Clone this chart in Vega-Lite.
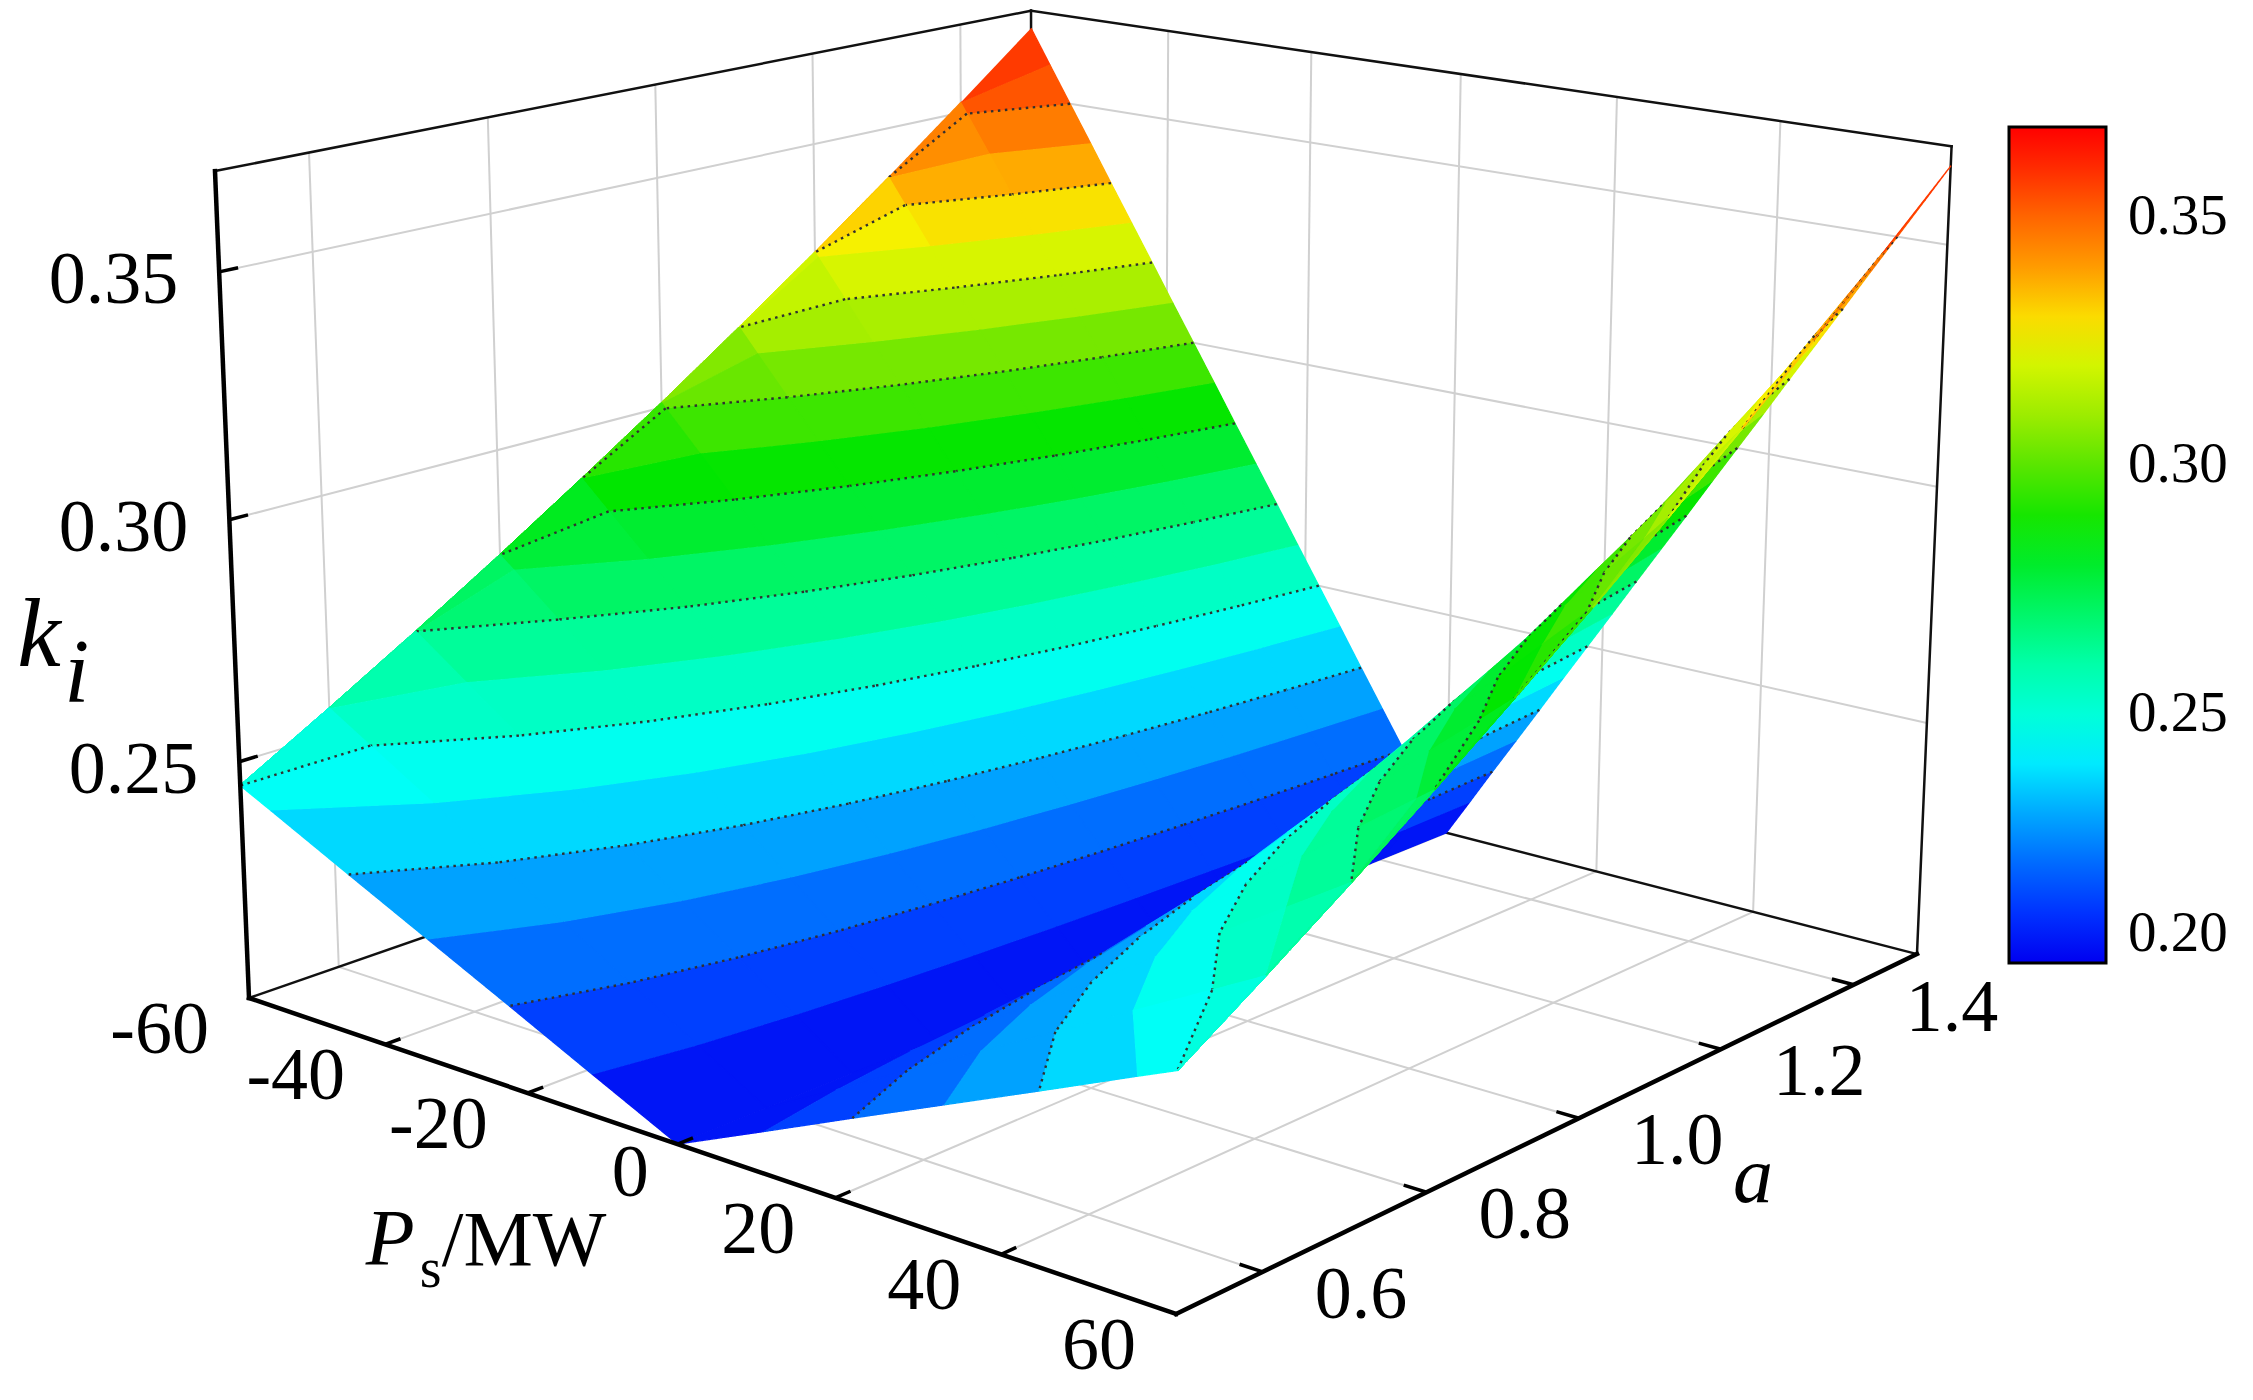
{
  "$schema": "https://vega.github.io/schema/vega-lite/v6.json",
  "width": 2253,
  "height": 1400,
  "autosize": "none",
  "padding": 0,
  "background": "white",
  "config": {"view": {"stroke": null}, "font": "Liberation Serif"},
  "datasets": {
    "surf": [
      {"a":1.5,"P":-60,"k":0.366},{"a":1.5,"P":-57.23,"k":0.3583},{"a":1.5,"P":-54.22,"k":0.35},{"a":1.5,"P":-51.2,"k":0.3417},{"a":1.5,"P":-48.19,"k":0.3333},{"a":1.5,"P":-45.18,"k":0.325},{"a":1.5,"P":-42.17,"k":0.3167},{"a":1.5,"P":-39.16,"k":0.3083},{"a":1.5,"P":-36.14,"k":0.3},{"a":1.5,"P":-33.13,"k":0.2917},{"a":1.5,"P":-30.12,"k":0.2833},{"a":1.5,"P":-27.11,"k":0.275},{"a":1.5,"P":-24.1,"k":0.2667},{"a":1.5,"P":-21.08,"k":0.2583},{"a":1.5,"P":-18.07,"k":0.25},{"a":1.5,"P":-15.06,"k":0.2417},{"a":1.5,"P":-12.05,"k":0.2333},{"a":1.5,"P":-9.04,"k":0.225},{"a":1.5,"P":-6.02,"k":0.2167},{"a":1.5,"P":-3.01,"k":0.2083},
      {"a":1.5,"P":0,"k":0.2},
      {"a":1.5,"P":3.01,"k":0.2083},{"a":1.5,"P":6.02,"k":0.2167},{"a":1.5,"P":9.04,"k":0.225},{"a":1.5,"P":12.05,"k":0.2333},{"a":1.5,"P":15.06,"k":0.2417},{"a":1.5,"P":18.07,"k":0.25},{"a":1.5,"P":21.08,"k":0.2583},{"a":1.5,"P":24.1,"k":0.2667},{"a":1.5,"P":27.11,"k":0.275},{"a":1.5,"P":30.12,"k":0.2833},{"a":1.5,"P":33.13,"k":0.2917},{"a":1.5,"P":36.14,"k":0.3},{"a":1.5,"P":39.16,"k":0.3083},{"a":1.5,"P":42.17,"k":0.3167},{"a":1.5,"P":45.18,"k":0.325},{"a":1.5,"P":48.19,"k":0.3333},{"a":1.5,"P":51.2,"k":0.3417},{"a":1.5,"P":54.22,"k":0.35},{"a":1.5,"P":57.23,"k":0.3583},{"a":1.5,"P":60,"k":0.366},

      {"a":1.4,"P":-60,"k":0.3523},{"a":1.4,"P":-60,"k":0.3523},{"a":1.4,"P":-59.1,"k":0.35},{"a":1.4,"P":-55.82,"k":0.3417},{"a":1.4,"P":-52.53,"k":0.3333},{"a":1.4,"P":-49.25,"k":0.325},{"a":1.4,"P":-45.97,"k":0.3167},{"a":1.4,"P":-42.68,"k":0.3083},{"a":1.4,"P":-39.4,"k":0.3},{"a":1.4,"P":-36.12,"k":0.2917},{"a":1.4,"P":-32.83,"k":0.2833},{"a":1.4,"P":-29.55,"k":0.275},{"a":1.4,"P":-26.27,"k":0.2667},{"a":1.4,"P":-22.99,"k":0.2583},{"a":1.4,"P":-19.7,"k":0.25},{"a":1.4,"P":-16.42,"k":0.2417},{"a":1.4,"P":-13.13,"k":0.2333},{"a":1.4,"P":-9.85,"k":0.225},{"a":1.4,"P":-6.57,"k":0.2167},{"a":1.4,"P":-3.28,"k":0.2083},
      {"a":1.4,"P":0,"k":0.2},
      {"a":1.4,"P":3.28,"k":0.2083},{"a":1.4,"P":6.57,"k":0.2167},{"a":1.4,"P":9.85,"k":0.225},{"a":1.4,"P":13.13,"k":0.2333},{"a":1.4,"P":16.42,"k":0.2417},{"a":1.4,"P":19.7,"k":0.25},{"a":1.4,"P":22.99,"k":0.2583},{"a":1.4,"P":26.27,"k":0.2667},{"a":1.4,"P":29.55,"k":0.275},{"a":1.4,"P":32.83,"k":0.2833},{"a":1.4,"P":36.12,"k":0.2917},{"a":1.4,"P":39.4,"k":0.3},{"a":1.4,"P":42.68,"k":0.3083},{"a":1.4,"P":45.97,"k":0.3167},{"a":1.4,"P":49.25,"k":0.325},{"a":1.4,"P":52.53,"k":0.3333},{"a":1.4,"P":55.82,"k":0.3417},{"a":1.4,"P":59.1,"k":0.35},{"a":1.4,"P":60,"k":0.3523},{"a":1.4,"P":60,"k":0.3523},

      {"a":1.3,"P":-60,"k":0.3389},{"a":1.3,"P":-60,"k":0.3389},{"a":1.3,"P":-60,"k":0.3389},{"a":1.3,"P":-60,"k":0.3389},{"a":1.3,"P":-57.59,"k":0.3333},{"a":1.3,"P":-53.99,"k":0.325},{"a":1.3,"P":-50.39,"k":0.3167},{"a":1.3,"P":-46.79,"k":0.3083},{"a":1.3,"P":-43.19,"k":0.3},{"a":1.3,"P":-39.59,"k":0.2917},{"a":1.3,"P":-35.99,"k":0.2833},{"a":1.3,"P":-32.39,"k":0.275},{"a":1.3,"P":-28.79,"k":0.2667},{"a":1.3,"P":-25.19,"k":0.2583},{"a":1.3,"P":-21.59,"k":0.25},{"a":1.3,"P":-17.99,"k":0.2417},{"a":1.3,"P":-14.4,"k":0.2333},{"a":1.3,"P":-10.8,"k":0.225},{"a":1.3,"P":-7.2,"k":0.2167},{"a":1.3,"P":-3.6,"k":0.2083},
      {"a":1.3,"P":0,"k":0.2},
      {"a":1.3,"P":3.6,"k":0.2083},{"a":1.3,"P":7.2,"k":0.2167},{"a":1.3,"P":10.8,"k":0.225},{"a":1.3,"P":14.4,"k":0.2333},{"a":1.3,"P":17.99,"k":0.2417},{"a":1.3,"P":21.59,"k":0.25},{"a":1.3,"P":25.19,"k":0.2583},{"a":1.3,"P":28.79,"k":0.2667},{"a":1.3,"P":32.39,"k":0.275},{"a":1.3,"P":35.99,"k":0.2833},{"a":1.3,"P":39.59,"k":0.2917},{"a":1.3,"P":43.19,"k":0.3},{"a":1.3,"P":46.79,"k":0.3083},{"a":1.3,"P":50.39,"k":0.3167},{"a":1.3,"P":53.99,"k":0.325},{"a":1.3,"P":57.59,"k":0.3333},{"a":1.3,"P":60,"k":0.3389},{"a":1.3,"P":60,"k":0.3389},{"a":1.3,"P":60,"k":0.3389},{"a":1.3,"P":60,"k":0.3389},

      {"a":1.2,"P":-60,"k":0.3259},{"a":1.2,"P":-60,"k":0.3259},{"a":1.2,"P":-60,"k":0.3259},{"a":1.2,"P":-60,"k":0.3259},{"a":1.2,"P":-60,"k":0.3259},{"a":1.2,"P":-59.57,"k":0.325},{"a":1.2,"P":-55.59,"k":0.3167},{"a":1.2,"P":-51.62,"k":0.3083},{"a":1.2,"P":-47.65,"k":0.3},{"a":1.2,"P":-43.68,"k":0.2917},{"a":1.2,"P":-39.71,"k":0.2833},{"a":1.2,"P":-35.74,"k":0.275},{"a":1.2,"P":-31.77,"k":0.2667},{"a":1.2,"P":-27.8,"k":0.2583},{"a":1.2,"P":-23.83,"k":0.25},{"a":1.2,"P":-19.86,"k":0.2417},{"a":1.2,"P":-15.88,"k":0.2333},{"a":1.2,"P":-11.91,"k":0.225},{"a":1.2,"P":-7.94,"k":0.2167},{"a":1.2,"P":-3.97,"k":0.2083},
      {"a":1.2,"P":0,"k":0.2},
      {"a":1.2,"P":3.97,"k":0.2083},{"a":1.2,"P":7.94,"k":0.2167},{"a":1.2,"P":11.91,"k":0.225},{"a":1.2,"P":15.88,"k":0.2333},{"a":1.2,"P":19.86,"k":0.2417},{"a":1.2,"P":23.83,"k":0.25},{"a":1.2,"P":27.8,"k":0.2583},{"a":1.2,"P":31.77,"k":0.2667},{"a":1.2,"P":35.74,"k":0.275},{"a":1.2,"P":39.71,"k":0.2833},{"a":1.2,"P":43.68,"k":0.2917},{"a":1.2,"P":47.65,"k":0.3},{"a":1.2,"P":51.62,"k":0.3083},{"a":1.2,"P":55.59,"k":0.3167},{"a":1.2,"P":59.57,"k":0.325},{"a":1.2,"P":60,"k":0.3259},{"a":1.2,"P":60,"k":0.3259},{"a":1.2,"P":60,"k":0.3259},{"a":1.2,"P":60,"k":0.3259},{"a":1.2,"P":60,"k":0.3259},

      {"a":1.1,"P":-60,"k":0.3133},{"a":1.1,"P":-60,"k":0.3133},{"a":1.1,"P":-60,"k":0.3133},{"a":1.1,"P":-60,"k":0.3133},{"a":1.1,"P":-60,"k":0.3133},{"a":1.1,"P":-60,"k":0.3133},{"a":1.1,"P":-60,"k":0.3133},{"a":1.1,"P":-57.38,"k":0.3083},{"a":1.1,"P":-52.97,"k":0.3},{"a":1.1,"P":-48.55,"k":0.2917},{"a":1.1,"P":-44.14,"k":0.2833},{"a":1.1,"P":-39.73,"k":0.275},{"a":1.1,"P":-35.31,"k":0.2667},{"a":1.1,"P":-30.9,"k":0.2583},{"a":1.1,"P":-26.48,"k":0.25},{"a":1.1,"P":-22.07,"k":0.2417},{"a":1.1,"P":-17.66,"k":0.2333},{"a":1.1,"P":-13.24,"k":0.225},{"a":1.1,"P":-8.83,"k":0.2167},{"a":1.1,"P":-4.41,"k":0.2083},
      {"a":1.1,"P":0,"k":0.2},
      {"a":1.1,"P":4.41,"k":0.2083},{"a":1.1,"P":8.83,"k":0.2167},{"a":1.1,"P":13.24,"k":0.225},{"a":1.1,"P":17.66,"k":0.2333},{"a":1.1,"P":22.07,"k":0.2417},{"a":1.1,"P":26.48,"k":0.25},{"a":1.1,"P":30.9,"k":0.2583},{"a":1.1,"P":35.31,"k":0.2667},{"a":1.1,"P":39.73,"k":0.275},{"a":1.1,"P":44.14,"k":0.2833},{"a":1.1,"P":48.55,"k":0.2917},{"a":1.1,"P":52.97,"k":0.3},{"a":1.1,"P":57.38,"k":0.3083},{"a":1.1,"P":60,"k":0.3133},{"a":1.1,"P":60,"k":0.3133},{"a":1.1,"P":60,"k":0.3133},{"a":1.1,"P":60,"k":0.3133},{"a":1.1,"P":60,"k":0.3133},{"a":1.1,"P":60,"k":0.3133},{"a":1.1,"P":60,"k":0.3133},

      {"a":1.0,"P":-60,"k":0.301},{"a":1.0,"P":-60,"k":0.301},{"a":1.0,"P":-60,"k":0.301},{"a":1.0,"P":-60,"k":0.301},{"a":1.0,"P":-60,"k":0.301},{"a":1.0,"P":-60,"k":0.301},{"a":1.0,"P":-60,"k":0.301},{"a":1.0,"P":-60,"k":0.301},{"a":1.0,"P":-59.41,"k":0.3},{"a":1.0,"P":-54.46,"k":0.2917},{"a":1.0,"P":-49.5,"k":0.2833},{"a":1.0,"P":-44.55,"k":0.275},{"a":1.0,"P":-39.6,"k":0.2667},{"a":1.0,"P":-34.65,"k":0.2583},{"a":1.0,"P":-29.7,"k":0.25},{"a":1.0,"P":-24.75,"k":0.2417},{"a":1.0,"P":-19.8,"k":0.2333},{"a":1.0,"P":-14.85,"k":0.225},{"a":1.0,"P":-9.9,"k":0.2167},{"a":1.0,"P":-4.95,"k":0.2083},
      {"a":1.0,"P":0,"k":0.2},
      {"a":1.0,"P":4.95,"k":0.2083},{"a":1.0,"P":9.9,"k":0.2167},{"a":1.0,"P":14.85,"k":0.225},{"a":1.0,"P":19.8,"k":0.2333},{"a":1.0,"P":24.75,"k":0.2417},{"a":1.0,"P":29.7,"k":0.25},{"a":1.0,"P":34.65,"k":0.2583},{"a":1.0,"P":39.6,"k":0.2667},{"a":1.0,"P":44.55,"k":0.275},{"a":1.0,"P":49.5,"k":0.2833},{"a":1.0,"P":54.46,"k":0.2917},{"a":1.0,"P":59.41,"k":0.3},{"a":1.0,"P":60,"k":0.301},{"a":1.0,"P":60,"k":0.301},{"a":1.0,"P":60,"k":0.301},{"a":1.0,"P":60,"k":0.301},{"a":1.0,"P":60,"k":0.301},{"a":1.0,"P":60,"k":0.301},{"a":1.0,"P":60,"k":0.301},{"a":1.0,"P":60,"k":0.301},

      {"a":0.9,"P":-60,"k":0.2891},{"a":0.9,"P":-60,"k":0.2891},{"a":0.9,"P":-60,"k":0.2891},{"a":0.9,"P":-60,"k":0.2891},{"a":0.9,"P":-60,"k":0.2891},{"a":0.9,"P":-60,"k":0.2891},{"a":0.9,"P":-60,"k":0.2891},{"a":0.9,"P":-60,"k":0.2891},{"a":0.9,"P":-60,"k":0.2891},{"a":0.9,"P":-60,"k":0.2891},{"a":0.9,"P":-56.13,"k":0.2833},{"a":0.9,"P":-50.52,"k":0.275},{"a":0.9,"P":-44.9,"k":0.2667},{"a":0.9,"P":-39.29,"k":0.2583},{"a":0.9,"P":-33.68,"k":0.25},{"a":0.9,"P":-28.06,"k":0.2417},{"a":0.9,"P":-22.45,"k":0.2333},{"a":0.9,"P":-16.84,"k":0.225},{"a":0.9,"P":-11.23,"k":0.2167},{"a":0.9,"P":-5.61,"k":0.2083},
      {"a":0.9,"P":0,"k":0.2},
      {"a":0.9,"P":5.61,"k":0.2083},{"a":0.9,"P":11.23,"k":0.2167},{"a":0.9,"P":16.84,"k":0.225},{"a":0.9,"P":22.45,"k":0.2333},{"a":0.9,"P":28.06,"k":0.2417},{"a":0.9,"P":33.68,"k":0.25},{"a":0.9,"P":39.29,"k":0.2583},{"a":0.9,"P":44.9,"k":0.2667},{"a":0.9,"P":50.52,"k":0.275},{"a":0.9,"P":56.13,"k":0.2833},{"a":0.9,"P":60,"k":0.2891},{"a":0.9,"P":60,"k":0.2891},{"a":0.9,"P":60,"k":0.2891},{"a":0.9,"P":60,"k":0.2891},{"a":0.9,"P":60,"k":0.2891},{"a":0.9,"P":60,"k":0.2891},{"a":0.9,"P":60,"k":0.2891},{"a":0.9,"P":60,"k":0.2891},{"a":0.9,"P":60,"k":0.2891},{"a":0.9,"P":60,"k":0.2891},

      {"a":0.8,"P":-60,"k":0.2775},{"a":0.8,"P":-60,"k":0.2775},{"a":0.8,"P":-60,"k":0.2775},{"a":0.8,"P":-60,"k":0.2775},{"a":0.8,"P":-60,"k":0.2775},{"a":0.8,"P":-60,"k":0.2775},{"a":0.8,"P":-60,"k":0.2775},{"a":0.8,"P":-60,"k":0.2775},{"a":0.8,"P":-60,"k":0.2775},{"a":0.8,"P":-60,"k":0.2775},{"a":0.8,"P":-60,"k":0.2775},{"a":0.8,"P":-58.05,"k":0.275},{"a":0.8,"P":-51.6,"k":0.2667},{"a":0.8,"P":-45.15,"k":0.2583},{"a":0.8,"P":-38.7,"k":0.25},{"a":0.8,"P":-32.25,"k":0.2417},{"a":0.8,"P":-25.8,"k":0.2333},{"a":0.8,"P":-19.35,"k":0.225},{"a":0.8,"P":-12.9,"k":0.2167},{"a":0.8,"P":-6.45,"k":0.2083},
      {"a":0.8,"P":0,"k":0.2},
      {"a":0.8,"P":6.45,"k":0.2083},{"a":0.8,"P":12.9,"k":0.2167},{"a":0.8,"P":19.35,"k":0.225},{"a":0.8,"P":25.8,"k":0.2333},{"a":0.8,"P":32.25,"k":0.2417},{"a":0.8,"P":38.7,"k":0.25},{"a":0.8,"P":45.15,"k":0.2583},{"a":0.8,"P":51.6,"k":0.2667},{"a":0.8,"P":58.05,"k":0.275},{"a":0.8,"P":60,"k":0.2775},{"a":0.8,"P":60,"k":0.2775},{"a":0.8,"P":60,"k":0.2775},{"a":0.8,"P":60,"k":0.2775},{"a":0.8,"P":60,"k":0.2775},{"a":0.8,"P":60,"k":0.2775},{"a":0.8,"P":60,"k":0.2775},{"a":0.8,"P":60,"k":0.2775},{"a":0.8,"P":60,"k":0.2775},{"a":0.8,"P":60,"k":0.2775},{"a":0.8,"P":60,"k":0.2775},

      {"a":0.7,"P":-60,"k":0.2663},{"a":0.7,"P":-60,"k":0.2663},{"a":0.7,"P":-60,"k":0.2663},{"a":0.7,"P":-60,"k":0.2663},{"a":0.7,"P":-60,"k":0.2663},{"a":0.7,"P":-60,"k":0.2663},{"a":0.7,"P":-60,"k":0.2663},{"a":0.7,"P":-60,"k":0.2663},{"a":0.7,"P":-60,"k":0.2663},{"a":0.7,"P":-60,"k":0.2663},{"a":0.7,"P":-60,"k":0.2663},{"a":0.7,"P":-60,"k":0.2663},{"a":0.7,"P":-60,"k":0.2663},{"a":0.7,"P":-52.77,"k":0.2583},{"a":0.7,"P":-45.23,"k":0.25},{"a":0.7,"P":-37.7,"k":0.2417},{"a":0.7,"P":-30.16,"k":0.2333},{"a":0.7,"P":-22.62,"k":0.225},{"a":0.7,"P":-15.08,"k":0.2167},{"a":0.7,"P":-7.54,"k":0.2083},
      {"a":0.7,"P":0,"k":0.2},
      {"a":0.7,"P":7.54,"k":0.2083},{"a":0.7,"P":15.08,"k":0.2167},{"a":0.7,"P":22.62,"k":0.225},{"a":0.7,"P":30.16,"k":0.2333},{"a":0.7,"P":37.7,"k":0.2417},{"a":0.7,"P":45.23,"k":0.25},{"a":0.7,"P":52.77,"k":0.2583},{"a":0.7,"P":60,"k":0.2663},{"a":0.7,"P":60,"k":0.2663},{"a":0.7,"P":60,"k":0.2663},{"a":0.7,"P":60,"k":0.2663},{"a":0.7,"P":60,"k":0.2663},{"a":0.7,"P":60,"k":0.2663},{"a":0.7,"P":60,"k":0.2663},{"a":0.7,"P":60,"k":0.2663},{"a":0.7,"P":60,"k":0.2663},{"a":0.7,"P":60,"k":0.2663},{"a":0.7,"P":60,"k":0.2663},{"a":0.7,"P":60,"k":0.2663},{"a":0.7,"P":60,"k":0.2663},

      {"a":0.6,"P":-60,"k":0.2555},{"a":0.6,"P":-60,"k":0.2555},{"a":0.6,"P":-60,"k":0.2555},{"a":0.6,"P":-60,"k":0.2555},{"a":0.6,"P":-60,"k":0.2555},{"a":0.6,"P":-60,"k":0.2555},{"a":0.6,"P":-60,"k":0.2555},{"a":0.6,"P":-60,"k":0.2555},{"a":0.6,"P":-60,"k":0.2555},{"a":0.6,"P":-60,"k":0.2555},{"a":0.6,"P":-60,"k":0.2555},{"a":0.6,"P":-60,"k":0.2555},{"a":0.6,"P":-60,"k":0.2555},{"a":0.6,"P":-60,"k":0.2555},{"a":0.6,"P":-54.07,"k":0.25},{"a":0.6,"P":-45.06,"k":0.2417},{"a":0.6,"P":-36.05,"k":0.2333},{"a":0.6,"P":-27.04,"k":0.225},{"a":0.6,"P":-18.02,"k":0.2167},{"a":0.6,"P":-9.01,"k":0.2083},
      {"a":0.6,"P":0,"k":0.2},
      {"a":0.6,"P":9.01,"k":0.2083},{"a":0.6,"P":18.02,"k":0.2167},{"a":0.6,"P":27.04,"k":0.225},{"a":0.6,"P":36.05,"k":0.2333},{"a":0.6,"P":45.06,"k":0.2417},{"a":0.6,"P":54.07,"k":0.25},{"a":0.6,"P":60,"k":0.2555},{"a":0.6,"P":60,"k":0.2555},{"a":0.6,"P":60,"k":0.2555},{"a":0.6,"P":60,"k":0.2555},{"a":0.6,"P":60,"k":0.2555},{"a":0.6,"P":60,"k":0.2555},{"a":0.6,"P":60,"k":0.2555},{"a":0.6,"P":60,"k":0.2555},{"a":0.6,"P":60,"k":0.2555},{"a":0.6,"P":60,"k":0.2555},{"a":0.6,"P":60,"k":0.2555},{"a":0.6,"P":60,"k":0.2555},{"a":0.6,"P":60,"k":0.2555},{"a":0.6,"P":60,"k":0.2555},

      {"a":0.5,"P":-60,"k":0.245},{"a":0.5,"P":-60,"k":0.245},{"a":0.5,"P":-60,"k":0.245},{"a":0.5,"P":-60,"k":0.245},{"a":0.5,"P":-60,"k":0.245},{"a":0.5,"P":-60,"k":0.245},{"a":0.5,"P":-60,"k":0.245},{"a":0.5,"P":-60,"k":0.245},{"a":0.5,"P":-60,"k":0.245},{"a":0.5,"P":-60,"k":0.245},{"a":0.5,"P":-60,"k":0.245},{"a":0.5,"P":-60,"k":0.245},{"a":0.5,"P":-60,"k":0.245},{"a":0.5,"P":-60,"k":0.245},{"a":0.5,"P":-60,"k":0.245},{"a":0.5,"P":-55.56,"k":0.2417},{"a":0.5,"P":-44.44,"k":0.2333},{"a":0.5,"P":-33.33,"k":0.225},{"a":0.5,"P":-22.22,"k":0.2167},{"a":0.5,"P":-11.11,"k":0.2083},
      {"a":0.5,"P":0,"k":0.2},
      {"a":0.5,"P":11.11,"k":0.2083},{"a":0.5,"P":22.22,"k":0.2167},{"a":0.5,"P":33.33,"k":0.225},{"a":0.5,"P":44.44,"k":0.2333},{"a":0.5,"P":55.56,"k":0.2417},{"a":0.5,"P":60,"k":0.245},{"a":0.5,"P":60,"k":0.245},{"a":0.5,"P":60,"k":0.245},{"a":0.5,"P":60,"k":0.245},{"a":0.5,"P":60,"k":0.245},{"a":0.5,"P":60,"k":0.245},{"a":0.5,"P":60,"k":0.245},{"a":0.5,"P":60,"k":0.245},{"a":0.5,"P":60,"k":0.245},{"a":0.5,"P":60,"k":0.245},{"a":0.5,"P":60,"k":0.245},{"a":0.5,"P":60,"k":0.245},{"a":0.5,"P":60,"k":0.245},{"a":0.5,"P":60,"k":0.245},{"a":0.5,"P":60,"k":0.245}
    ],
    "lines": [
      {"t":"grid","P":-60,"a":0.5,"k":0.25,"P2":-60,"a2":1.5,"k2":0.25},
      {"t":"grid","P":-60,"a":0.5,"k":0.3,"P2":-60,"a2":1.5,"k2":0.3},
      {"t":"grid","P":-60,"a":0.5,"k":0.35,"P2":-60,"a2":1.5,"k2":0.35},
      {"t":"grid","P":-60,"a":0.6,"k":0.2,"P2":-60,"a2":0.6,"k2":0.37},
      {"t":"grid","P":-60,"a":0.8,"k":0.2,"P2":-60,"a2":0.8,"k2":0.37},
      {"t":"grid","P":-60,"a":1.0,"k":0.2,"P2":-60,"a2":1.0,"k2":0.37},
      {"t":"grid","P":-60,"a":1.2,"k":0.2,"P2":-60,"a2":1.2,"k2":0.37},
      {"t":"grid","P":-60,"a":1.4,"k":0.2,"P2":-60,"a2":1.4,"k2":0.37},
      {"t":"grid","P":-60,"a":1.5,"k":0.25,"P2":60,"a2":1.5,"k2":0.25},
      {"t":"grid","P":-60,"a":1.5,"k":0.3,"P2":60,"a2":1.5,"k2":0.3},
      {"t":"grid","P":-60,"a":1.5,"k":0.35,"P2":60,"a2":1.5,"k2":0.35},
      {"t":"grid","P":-40,"a":1.5,"k":0.2,"P2":-40,"a2":1.5,"k2":0.37},
      {"t":"grid","P":-20,"a":1.5,"k":0.2,"P2":-20,"a2":1.5,"k2":0.37},
      {"t":"grid","P":0,"a":1.5,"k":0.2,"P2":0,"a2":1.5,"k2":0.37},
      {"t":"grid","P":20,"a":1.5,"k":0.2,"P2":20,"a2":1.5,"k2":0.37},
      {"t":"grid","P":40,"a":1.5,"k":0.2,"P2":40,"a2":1.5,"k2":0.37},
      {"t":"grid","P":-40,"a":0.5,"k":0.2,"P2":-40,"a2":1.5,"k2":0.2},
      {"t":"grid","P":-20,"a":0.5,"k":0.2,"P2":-20,"a2":1.5,"k2":0.2},
      {"t":"grid","P":0,"a":0.5,"k":0.2,"P2":0,"a2":1.5,"k2":0.2},
      {"t":"grid","P":20,"a":0.5,"k":0.2,"P2":20,"a2":1.5,"k2":0.2},
      {"t":"grid","P":40,"a":0.5,"k":0.2,"P2":40,"a2":1.5,"k2":0.2},
      {"t":"grid","P":-60,"a":0.6,"k":0.2,"P2":60,"a2":0.6,"k2":0.2},
      {"t":"grid","P":-60,"a":0.8,"k":0.2,"P2":60,"a2":0.8,"k2":0.2},
      {"t":"grid","P":-60,"a":1.0,"k":0.2,"P2":60,"a2":1.0,"k2":0.2},
      {"t":"grid","P":-60,"a":1.2,"k":0.2,"P2":60,"a2":1.2,"k2":0.2},
      {"t":"grid","P":-60,"a":1.4,"k":0.2,"P2":60,"a2":1.4,"k2":0.2},
      {"t":"frame","P":-60,"a":0.5,"k":0.37,"P2":-60,"a2":1.5,"k2":0.37},
      {"t":"frame","P":-60,"a":1.5,"k":0.37,"P2":60,"a2":1.5,"k2":0.37},
      {"t":"frame","P":-60,"a":1.5,"k":0.2,"P2":-60,"a2":1.5,"k2":0.37},
      {"t":"frame","P":60,"a":1.5,"k":0.2,"P2":60,"a2":1.5,"k2":0.37},
      {"t":"frame","P":-60,"a":0.5,"k":0.2,"P2":-60,"a2":1.5,"k2":0.2},
      {"t":"frame","P":-60,"a":1.5,"k":0.2,"P2":60,"a2":1.5,"k2":0.2},
      {"t":"axis","P":-60,"a":0.5,"k":0.2,"P2":60,"a2":0.5,"k2":0.2},
      {"t":"axis","P":60,"a":0.5,"k":0.2,"P2":60,"a2":1.5,"k2":0.2},
      {"t":"axis","P":-60,"a":0.5,"k":0.2,"P2":-60,"a2":0.5,"k2":0.37},
      {"t":"tick","P":-40,"a":0.5,"k":0.2,"P2":-40,"a2":0.517,"k2":0.2},
      {"t":"tick","P":-20,"a":0.5,"k":0.2,"P2":-20,"a2":0.517,"k2":0.2},
      {"t":"tick","P":0,"a":0.5,"k":0.2,"P2":0,"a2":0.517,"k2":0.2},
      {"t":"tick","P":20,"a":0.5,"k":0.2,"P2":20,"a2":0.517,"k2":0.2},
      {"t":"tick","P":40,"a":0.5,"k":0.2,"P2":40,"a2":0.517,"k2":0.2},
      {"t":"tick","P":60,"a":0.6,"k":0.2,"P2":57.4,"a2":0.6,"k2":0.2},
      {"t":"tick","P":60,"a":0.8,"k":0.2,"P2":57.4,"a2":0.8,"k2":0.2},
      {"t":"tick","P":60,"a":1.0,"k":0.2,"P2":57.4,"a2":1.0,"k2":0.2},
      {"t":"tick","P":60,"a":1.2,"k":0.2,"P2":57.4,"a2":1.2,"k2":0.2},
      {"t":"tick","P":60,"a":1.4,"k":0.2,"P2":57.4,"a2":1.4,"k2":0.2},
      {"t":"tick","P":-60,"a":0.5,"k":0.25,"P2":-60,"a2":0.52,"k2":0.25},
      {"t":"tick","P":-60,"a":0.5,"k":0.3,"P2":-60,"a2":0.52,"k2":0.3},
      {"t":"tick","P":-60,"a":0.5,"k":0.35,"P2":-60,"a2":0.52,"k2":0.35}
    ],
    "labels": [
      {"g":"P","t":"-60","P":-60,"a":0.5,"k":0.2},
      {"g":"P","t":"-40","P":-40,"a":0.5,"k":0.2},
      {"g":"P","t":"-20","P":-20,"a":0.5,"k":0.2},
      {"g":"P0","t":"0","P":0,"a":0.5,"k":0.2},
      {"g":"P","t":"20","P":20,"a":0.5,"k":0.2},
      {"g":"P","t":"40","P":40,"a":0.5,"k":0.2},
      {"g":"P","t":"60","P":60,"a":0.5,"k":0.2},
      {"g":"a","t":"0.6","P":60,"a":0.6,"k":0.2},
      {"g":"a","t":"0.8","P":60,"a":0.8,"k":0.2},
      {"g":"a","t":"1.0","P":60,"a":1.0,"k":0.2},
      {"g":"a","t":"1.2","P":60,"a":1.2,"k":0.2},
      {"g":"a","t":"1.4","P":60,"a":1.4,"k":0.2},
      {"g":"k","t":"0.25","P":-60,"a":0.5,"k":0.25},
      {"g":"k","t":"0.30","P":-60,"a":0.5,"k":0.3},
      {"g":"k","t":"0.35","P":-60,"a":0.5,"k":0.35},
      {"g":"k1","t":"k","P":-60,"a":0.5,"k":0.275},
      {"g":"k2","t":"i","P":-60,"a":0.5,"k":0.275},
      {"g":"t1","t":"P","P":-20,"a":0.5,"k":0.2},
      {"g":"t2","t":"s","P":-20,"a":0.5,"k":0.2},
      {"g":"t3","t":"/MW","P":-20,"a":0.5,"k":0.2},
      {"g":"t4","t":"a","P":60,"a":1.0,"k":0.2}
    ],
    "cbar": [{"kl": 0.2}, {"kl": 0.368}]
  },
  "encoding": {
    "x": {"field": "sx", "type": "quantitative", "scale": {"domain": [0, 2253], "nice": false, "zero": false}, "axis": null},
    "y": {"field": "sy", "type": "quantitative", "scale": {"domain": [0, 1400], "nice": false, "zero": false, "reverse": true}, "axis": null}
  },
  "layer": [
    {
      "data": {"name": "lines"},
      "transform": [
        {"calculate": "1 - 0.14*(datum.P+60)/120 + 0.165*(datum.a-0.5) - 0.04*(datum.k-0.2)/0.17", "as": "D"},
        {"calculate": "(249 + 762.4*(datum.P+60)/120 + 953.5*(datum.a-0.5) - 42.6*(datum.k-0.2)/0.17)/datum.D", "as": "sx"},
        {"calculate": "(998 + 132*(datum.P+60)/120 - 152.1*(datum.a-0.5) - 833.8*(datum.k-0.2)/0.17)/datum.D", "as": "sy"},
        {"calculate": "1 - 0.14*(datum.P2+60)/120 + 0.165*(datum.a2-0.5) - 0.04*(datum.k2-0.2)/0.17", "as": "D2"},
        {"calculate": "(249 + 762.4*(datum.P2+60)/120 + 953.5*(datum.a2-0.5) - 42.6*(datum.k2-0.2)/0.17)/datum.D2", "as": "sx2"},
        {"calculate": "(998 + 132*(datum.P2+60)/120 - 152.1*(datum.a2-0.5) - 833.8*(datum.k2-0.2)/0.17)/datum.D2", "as": "sy2"}
      ],
      "layer": [
        {
          "transform": [{"filter": "datum.t == 'grid'"}],
          "mark": {"type": "rule", "color": "#d0d0d0", "strokeWidth": 2},
          "encoding": {"x2": {"field": "sx2"}, "y2": {"field": "sy2"}}
        },
        {
          "transform": [{"filter": "datum.t == 'frame'"}],
          "mark": {"type": "rule", "color": "#111111", "strokeWidth": 2.5, "strokeCap": "square"},
          "encoding": {"x2": {"field": "sx2"}, "y2": {"field": "sy2"}}
        }
      ]
    },
    {
      "data": {"name": "surf"},
      "transform": [
        {"window": [{"op": "row_number", "as": "rn"}], "groupby": ["a"]},
        {"calculate": "datum.rn - 1", "as": "i"},
        {"calculate": "round((1.5 - datum.a) * 10)", "as": "j"},
        {"calculate": "abs(datum.i - 20)", "as": "m"},
        {"calculate": "abs(datum.k - 0.2 - datum.m / 120) < 0.0003 ? 1 : 0", "as": "ok"},
        {"calculate": "[0, 1, 2, 3, 4, 5]", "as": "c"},
        {"flatten": ["c"]},
        {"calculate": "datum.c == 1 || datum.c == 2 ? datum.i - 1 : datum.i", "as": "ci"},
        {"calculate": "datum.c == 2 || datum.c == 3 || datum.c == 5 ? datum.j - 1 : datum.j", "as": "cj"},
        {"calculate": "datum.c >= 4 ? 1 : 0", "as": "g"},
        {"filter": "datum.ci >= 0 && datum.ci <= 39 && datum.cj >= 0 && datum.cj <= 9"},
        {"filter": "datum.g == 0 || (datum.m % 2 == 0 && datum.m >= 2 && datum.m <= 18)"},
        {"calculate": "(datum.g == 1 ? 's' : 'q') + datum.ci + '_' + datum.cj", "as": "gid"},
        {"calculate": "datum.g == 1 ? datum.c - 4 : datum.c", "as": "vo"},
        {"joinaggregate": [{"op": "mean", "field": "k", "as": "kc"}, {"op": "sum", "field": "ok", "as": "nv"}], "groupby": ["gid"]},
        {"filter": "datum.g == 0 || datum.nv >= 1"},
        {"calculate": "1 - 0.14*(datum.P+60)/120 + 0.165*(datum.a-0.5) - 0.04*(datum.k-0.2)/0.17", "as": "D"},
        {"calculate": "(249 + 762.4*(datum.P+60)/120 + 953.5*(datum.a-0.5) - 42.6*(datum.k-0.2)/0.17)/datum.D", "as": "sx"},
        {"calculate": "(998 + 132*(datum.P+60)/120 - 152.1*(datum.a-0.5) - 833.8*(datum.k-0.2)/0.17)/datum.D", "as": "sy"}
      ],
      "mark": {"type": "line", "interpolate": "linear", "strokeJoin": "round"},
      "encoding": {
        "detail": {"field": "gid", "type": "nominal"},
        "order": {"field": "vo", "type": "quantitative"},
        "fill": {
          "field": "kc", "type": "quantitative",
          "condition": {"test": "datum.g == 1", "value": "transparent"},
          "scale": {
            "domain": [0.2, 0.21, 0.2208, 0.232, 0.2432, 0.2504, 0.2598, 0.271, 0.2867, 0.3001, 0.3089, 0.318, 0.3268, 0.3324, 0.3391, 0.3502, 0.3603, 0.368],
            "range": ["#0000f0", "#0032ff", "#006eff", "#00b4ff", "#00ffff", "#00ffd7", "#00ffaa", "#00f564", "#00e600", "#5ae600", "#96eb00", "#c8f500", "#f5f500", "#ffc800", "#ffa000", "#ff6400", "#ff2800", "#ff0000"],
            "interpolate": "rgb"
          },
          "legend": null
        },
        "stroke": {
          "field": "kc", "type": "quantitative",
          "condition": {"test": "datum.g == 1", "value": "#303030"},
          "scale": {
            "domain": [0.2, 0.21, 0.2208, 0.232, 0.2432, 0.2504, 0.2598, 0.271, 0.2867, 0.3001, 0.3089, 0.318, 0.3268, 0.3324, 0.3391, 0.3502, 0.3603, 0.368],
            "range": ["#0000f0", "#0032ff", "#006eff", "#00b4ff", "#00ffff", "#00ffd7", "#00ffaa", "#00f564", "#00e600", "#5ae600", "#96eb00", "#c8f500", "#f5f500", "#ffc800", "#ffa000", "#ff6400", "#ff2800", "#ff0000"],
            "interpolate": "rgb"
          },
          "legend": null
        },
        "strokeWidth": {"condition": {"test": "datum.g == 1", "value": 2.4}, "value": 1.3},
        "strokeDash": {"condition": {"test": "datum.g == 1", "value": [2.5, 4.5]}, "value": [1, 0]}
      }
    },
    {
      "data": {"name": "cbar"},
      "mark": {"type": "square", "filled": true, "size": 0, "opacity": 1},
      "encoding": {
        "x": {"value": -50},
        "y": {"value": -50},
        "color": {
          "field": "kl", "type": "quantitative",
          "scale": {
            "domain": [0.2, 0.21, 0.2208, 0.232, 0.2432, 0.2504, 0.2598, 0.271, 0.2867, 0.3001, 0.3089, 0.318, 0.3268, 0.3324, 0.3391, 0.3502, 0.3603, 0.36801],
            "range": ["#0000f0", "#0032ff", "#006eff", "#00b4ff", "#00ffff", "#00ffd7", "#00ffaa", "#00f564", "#00e600", "#5ae600", "#96eb00", "#c8f500", "#f5f500", "#ffc800", "#ffa000", "#ff6400", "#ff2800", "#ff0000"],
            "interpolate": "rgb"
          },
          "legend": {
            "type": "gradient",
            "orient": "none", "legendX": 2009, "legendY": 127, "direction": "vertical",
            "title": null, "padding": 0,
            "gradientLength": 836, "gradientThickness": 97, "gradientOpacity": 1,
            "gradientStrokeColor": "#000000", "gradientStrokeWidth": 3,
            "values": [0.2, 0.25, 0.3, 0.35], "format": ".2f",
            "labelFont": "Liberation Serif", "labelFontSize": 57, "labelColor": "#000000",
            "labelOffset": 22, "labelBaseline": "middle", "labelOverlap": false, "labelLimit": 300
          }
        }
      }
    },
    {
      "data": {"name": "lines"},
      "transform": [
        {"calculate": "1 - 0.14*(datum.P+60)/120 + 0.165*(datum.a-0.5) - 0.04*(datum.k-0.2)/0.17", "as": "D"},
        {"calculate": "(249 + 762.4*(datum.P+60)/120 + 953.5*(datum.a-0.5) - 42.6*(datum.k-0.2)/0.17)/datum.D", "as": "sx"},
        {"calculate": "(998 + 132*(datum.P+60)/120 - 152.1*(datum.a-0.5) - 833.8*(datum.k-0.2)/0.17)/datum.D", "as": "sy"},
        {"calculate": "1 - 0.14*(datum.P2+60)/120 + 0.165*(datum.a2-0.5) - 0.04*(datum.k2-0.2)/0.17", "as": "D2"},
        {"calculate": "(249 + 762.4*(datum.P2+60)/120 + 953.5*(datum.a2-0.5) - 42.6*(datum.k2-0.2)/0.17)/datum.D2", "as": "sx2"},
        {"calculate": "(998 + 132*(datum.P2+60)/120 - 152.1*(datum.a2-0.5) - 833.8*(datum.k2-0.2)/0.17)/datum.D2", "as": "sy2"}
      ],
      "layer": [
        {
          "transform": [{"filter": "datum.t == 'axis'"}],
          "mark": {"type": "rule", "color": "#000000", "strokeWidth": 4.5, "strokeCap": "square"},
          "encoding": {"x2": {"field": "sx2"}, "y2": {"field": "sy2"}}
        },
        {
          "transform": [{"filter": "datum.t == 'tick'"}],
          "mark": {"type": "rule", "color": "#000000", "strokeWidth": 3.5},
          "encoding": {"x2": {"field": "sx2"}, "y2": {"field": "sy2"}}
        }
      ]
    },
    {
      "data": {"name": "labels"},
      "transform": [
        {"calculate": "1 - 0.14*(datum.P+60)/120 + 0.165*(datum.a-0.5) - 0.04*(datum.k-0.2)/0.17", "as": "D"},
        {"calculate": "(249 + 762.4*(datum.P+60)/120 + 953.5*(datum.a-0.5) - 42.6*(datum.k-0.2)/0.17)/datum.D", "as": "sx"},
        {"calculate": "(998 + 132*(datum.P+60)/120 - 152.1*(datum.a-0.5) - 833.8*(datum.k-0.2)/0.17)/datum.D", "as": "sy"}
      ],
      "layer": [
        {
          "transform": [{"filter": "datum.g == 'P'"}],
          "mark": {"type": "text", "align": "right", "baseline": "middle", "dx": -40, "dy": 33, "fontSize": 74, "color": "#000000"},
          "encoding": {"text": {"field": "t", "type": "nominal"}}
        },
        {
          "transform": [{"filter": "datum.g == 'P0'"}],
          "mark": {"type": "text", "align": "right", "baseline": "middle", "dx": -29, "dy": 30, "fontSize": 74, "color": "#000000"},
          "encoding": {"text": {"field": "t", "type": "nominal"}}
        },
        {
          "transform": [{"filter": "datum.g == 'a'"}],
          "mark": {"type": "text", "align": "left", "baseline": "middle", "dx": 52, "dy": 24, "fontSize": 74, "color": "#000000"},
          "encoding": {"text": {"field": "t", "type": "nominal"}}
        },
        {
          "transform": [{"filter": "datum.g == 'k'"}],
          "mark": {"type": "text", "align": "right", "baseline": "middle", "dx": -41, "dy": 9, "fontSize": 74, "color": "#000000"},
          "encoding": {"text": {"field": "t", "type": "nominal"}}
        },
        {
          "transform": [{"filter": "datum.g == 'k1'"}],
          "mark": {"type": "text", "align": "left", "baseline": "alphabetic", "dx": -217, "dy": 25, "fontSize": 98, "fontStyle": "italic", "color": "#000000"},
          "encoding": {"text": {"field": "t", "type": "nominal"}}
        },
        {
          "transform": [{"filter": "datum.g == 'k2'"}],
          "mark": {"type": "text", "align": "left", "baseline": "alphabetic", "dx": -170, "dy": 61, "fontSize": 90, "fontStyle": "italic", "color": "#000000"},
          "encoding": {"text": {"field": "t", "type": "nominal"}}
        },
        {
          "transform": [{"filter": "datum.g == 't1'"}],
          "mark": {"type": "text", "align": "left", "baseline": "alphabetic", "dx": -162, "dy": 172, "fontSize": 80, "fontStyle": "italic", "color": "#000000"},
          "encoding": {"text": {"field": "t", "type": "nominal"}}
        },
        {
          "transform": [{"filter": "datum.g == 't2'"}],
          "mark": {"type": "text", "align": "left", "baseline": "alphabetic", "dx": -108, "dy": 194, "fontSize": 56, "color": "#000000"},
          "encoding": {"text": {"field": "t", "type": "nominal"}}
        },
        {
          "transform": [{"filter": "datum.g == 't3'"}],
          "mark": {"type": "text", "align": "left", "baseline": "alphabetic", "dx": -86, "dy": 172, "fontSize": 78, "color": "#000000"},
          "encoding": {"text": {"field": "t", "type": "nominal"}}
        },
        {
          "transform": [{"filter": "datum.g == 't4'"}],
          "mark": {"type": "text", "align": "left", "baseline": "alphabetic", "dx": 154, "dy": 84, "fontSize": 80, "fontStyle": "italic", "color": "#000000"},
          "encoding": {"text": {"field": "t", "type": "nominal"}}
        }
      ]
    }
  ]
}
